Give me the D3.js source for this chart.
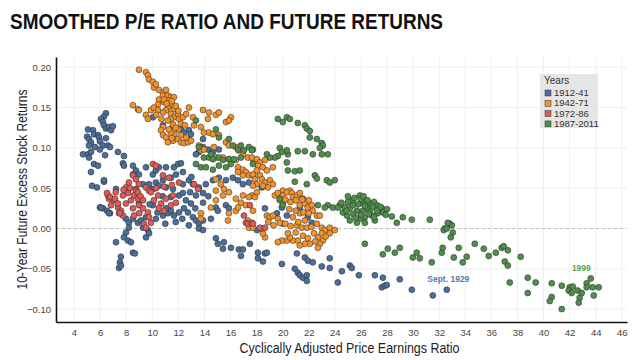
<!DOCTYPE html>
<html>
<head>
<meta charset="utf-8">
<script src="https://cdn.jsdelivr.net/npm/d3@7"></script>
<style>
  body { margin: 0; background: #fff; }
  svg { display: block; font-family: "Liberation Sans", Arial, sans-serif; }
</style>
</head>
<body>
<svg id="chart" width="640" height="360"></svg>
<script>
const TITLE = "SMOOTHED P/E RATIO AND FUTURE RETURNS";
const X_LABEL = "Cyclically Adjusted Price Earnings Ratio";
const Y_LABEL = "10-Year Future Excess Stock Returns";

const categories = ["1912-41", "1942-71", "1972-86", "1987-2011"];
const colors = ["#4a6f9c", "#f2922c", "#e15a57", "#4f8f4c"];

const xTicks = d3.range(4, 47, 2);
const yTicks = [-0.10, -0.05, 0.00, 0.05, 0.10, 0.15, 0.20];

// [CAPE, 10y excess return]
const series1912 = [
  [6.45,0.143],[6.30,0.139],[6.07,0.136],[6.22,0.132],[6.30,0.128],[6.45,0.124],[6.68,0.126],[6.84,0.122],[6.99,0.127],
  [5.07,0.123],[5.46,0.122],[5.53,0.117],[5.84,0.116],[5.00,0.114],[5.15,0.111],[5.30,0.107],[5.15,0.103],[5.92,0.113],
  [5.99,0.108],[6.22,0.103],[6.45,0.112],[6.61,0.103],[4.69,0.092],[5.07,0.092],[5.15,0.088],[5.30,0.095],[6.38,0.091],
  [7.37,0.095],[7.83,0.090],[7.75,0.081],[7.83,0.078],[5.53,0.080],[5.84,0.078],[5.30,0.070],[5.61,0.101],[5.99,0.098],
  [6.76,0.101],[5.38,0.053],[5.76,0.051],[6.30,0.058],[5.99,0.026],[6.22,0.025],[6.53,0.022],[6.76,0.019],[6.07,0.026],
  [6.68,0.019],[8.52,0.078],[8.75,0.072],[8.98,0.067],[8.52,0.067],[9.52,0.076],[10.05,0.067],[10.28,0.072],[10.51,0.076],
  [11.05,0.076],[11.66,0.076],[11.97,0.080],[12.20,0.081],[12.35,0.070],[11.82,0.067],[11.43,0.063],[10.82,0.060],
  [10.28,0.057],[9.75,0.055],[9.29,0.055],[8.75,0.049],[10.05,0.049],[10.51,0.053],[11.05,0.051],[11.59,0.049],
  [12.35,0.055],[12.81,0.060],[13.12,0.055],[13.58,0.051],[14.11,0.055],[14.65,0.060],[15.11,0.063],[15.65,0.060],
  [16.18,0.063],[16.57,0.060],[16.95,0.055],[17.41,0.057],[6.30,0.060],[7.22,0.049],
  [10.82,0.128],[11.59,0.127],[12.20,0.123],[12.43,0.119],[12.81,0.122],[12.97,0.117],[12.74,0.111],[10.05,0.138],
  [13.89,0.111],[13.89,0.101],[14.27,0.098],[13.58,0.095],[13.35,0.092],[14.65,0.095],[15.11,0.098],
  [7.98,0.012],[8.21,0.007],[8.52,0.012],[8.90,0.007],[9.13,0.010],[9.52,0.014],[10.28,0.012],[10.82,0.016],[11.20,0.019],
  [11.43,0.022],[11.66,0.016],[12.05,0.020],[12.43,0.025],[12.74,0.020],[13.12,0.014],[13.35,0.010],[13.58,0.006],
  [13.89,0.010],[12.81,0.004],[13.58,0.000],[13.89,-0.002],[9.29,0.001],[9.67,-0.002],[9.52,-0.011],[9.75,-0.006],
  [8.21,0.001],[7.98,-0.005],[7.83,-0.011],[8.14,-0.015],[8.37,-0.017],[7.22,-0.017],[8.52,-0.030],[8.67,-0.031],
  [7.60,-0.035],[7.52,-0.042],[7.45,-0.049],[7.60,-0.046],
  [14.88,-0.012],[15.03,-0.019],[15.42,-0.025],[15.49,-0.017],[16.03,-0.024],[16.64,-0.026],[16.95,-0.026],[16.80,-0.034],
  [17.49,-0.019],[11.43,0.039],[12.05,0.041],[12.58,0.035],[12.97,0.031],[13.35,0.041],[13.89,0.032],[13.89,0.044],
  [12.35,0.044],[14.88,0.026],[15.03,0.022],[15.65,0.029],[15.88,0.025],[8.98,0.032],[10.05,0.029],[11.05,0.025],
  [18.64,0.025],[18.10,-0.030],[18.64,-0.031],[18.79,-0.030],[18.10,-0.037],[18.48,-0.041],[19.94,-0.044],[21.09,-0.031],
  [21.70,-0.036],[21.93,-0.040],[22.31,-0.042],[23.00,-0.047],[23.61,-0.037],[23.61,-0.049],[20.93,-0.050],[21.16,-0.055],
  [21.31,-0.058],[21.55,-0.061],[21.85,-0.058],[21.85,-0.065],[24.54,-0.053],[25.15,-0.046],[25.30,-0.049],[24.23,-0.067],
  [25.84,-0.058],[27.07,-0.058],[27.68,-0.061],[27.60,-0.073],[27.83,-0.071],[27.98,-0.070],[28.98,-0.063],[29.90,-0.076],
  [31.51,-0.083],[32.58,-0.076],
  [19.56,0.019],[19.94,0.026],[20.01,0.006],[20.32,0.016],[21.31,0.025],[21.55,0.037],[21.93,0.014],[22.23,0.007],
  [18.02,-0.002],[18.40,0.051],[18.64,0.053],
  [9.80,0.030],[10.40,0.020],[11.00,0.006],[11.80,0.008],[12.30,0.012],[10.80,0.040],[12.90,0.045],[13.30,0.025],
  [14.30,0.040],[14.50,0.012],[13.00,0.064]
];

const series1942 = [
  [8.98,0.197],[9.52,0.194],[9.67,0.190],[9.75,0.185],[10.05,0.182],[10.13,0.175],[10.28,0.179],[10.51,0.172],[10.82,0.169],
  [11.05,0.172],[10.82,0.165],[11.20,0.165],[11.43,0.163],[11.66,0.163],[11.28,0.159],[10.51,0.160],[10.44,0.154],
  [10.90,0.157],[11.43,0.154],[11.20,0.150],[11.66,0.148],[11.05,0.147],[10.82,0.144],[11.43,0.142],[11.66,0.138],
  [11.97,0.142],[12.05,0.136],[12.35,0.138],[11.43,0.136],[11.20,0.134],[11.59,0.129],[10.82,0.126],[10.67,0.122],
  [10.82,0.116],[11.05,0.113],[11.20,0.107],[11.59,0.109],[11.66,0.117],[11.97,0.111],[12.20,0.107],[12.43,0.106],
  [12.74,0.107],[12.97,0.109],[11.43,0.119],[11.28,0.123],[8.52,0.153],[8.90,0.148],[8.98,0.147],[9.52,0.141],
  [9.67,0.136],[9.90,0.147],[10.13,0.150],[10.44,0.147],[12.81,0.150],[13.12,0.138],[13.20,0.128],[13.73,0.126],
  [13.89,0.147],[14.35,0.144],[14.27,0.136],[14.88,0.141],[15.11,0.144],[15.65,0.132],[16.03,0.138],[15.88,0.134],
  [13.96,0.119],[14.35,0.119],[14.65,0.117],[15.11,0.116],[13.58,0.103],[13.73,0.097],[13.96,0.098],[14.73,0.101],
  [15.65,0.107],[15.88,0.103],[16.41,0.101],[16.64,0.097],[16.95,0.092],[17.33,0.088],[17.72,0.086],[14.88,0.088],
  [15.42,0.088],[15.88,0.086],[16.41,0.085],[16.57,0.076],[16.95,0.073],[17.18,0.070],[17.41,0.066],[17.72,0.066],
  [16.95,0.066],[16.57,0.070],[15.49,0.049],[15.26,0.055],[14.88,0.061],
  [17.64,0.088],[18.02,0.086],[18.25,0.082],[18.64,0.085],[18.10,0.078],[18.48,0.076],[18.79,0.072],[18.02,0.072],
  [17.72,0.067],[18.25,0.066],[17.87,0.061],[18.41,0.061],[18.64,0.057],[19.02,0.060],[19.25,0.055],[18.87,0.051],
  [18.02,0.055],[18.48,0.053],[17.72,0.053],[20.01,0.047],[20.55,0.047],[19.25,0.076],
  [17.64,0.041],[17.87,0.039],[18.02,0.045],[19.40,0.041],[19.63,0.044],[20.01,0.041],[20.32,0.045],[20.70,0.044],
  [20.78,0.039],[21.09,0.041],[21.31,0.044],[19.78,0.035],[20.01,0.031],[21.31,0.029],[21.70,0.031],[21.93,0.026],
  [22.23,0.029],[22.31,0.022],[22.62,0.016],[22.85,0.016],[18.79,0.016],[19.02,0.014],[19.25,0.016],[19.63,0.012],
  [19.78,0.007],[20.78,0.014],[21.31,0.019],[21.70,0.010],[21.09,0.004],[21.47,0.001],[21.85,0.001],[22.62,0.006],
  [23.00,0.001],[23.23,-0.002],[23.61,0.001],[23.99,-0.002],[23.61,-0.006],[23.00,-0.006],[22.70,-0.011],[23.08,-0.015],
  [22.85,-0.019],[22.70,-0.024],[21.55,-0.009],[21.93,-0.012],[22.08,-0.019],[21.70,-0.019],[21.16,-0.015],[21.31,-0.021],
  [20.78,-0.015],[20.32,-0.015],[19.94,-0.015],[19.63,-0.017],[20.55,-0.011],[18.64,-0.011],[18.48,-0.006],
  [13.73,0.019],[13.73,0.012],[14.50,0.026],[14.88,0.035],[14.88,0.047],[15.42,0.041],[15.88,0.045],[16.41,0.037],
  [16.80,0.032],[16.95,0.041],[17.18,0.029],[16.41,0.022],[15.88,0.019],[17.41,0.039],[15.80,0.010],[16.57,0.026],
  [17.72,0.022],[17.33,0.010],[17.41,0.001],[17.72,0.001],
  [20.20,0.036],[20.60,0.033],[21.00,0.035],[21.50,0.036],[22.00,0.035],[20.50,0.024],[21.00,0.022],[21.60,0.020],
  [22.00,0.019],[20.20,0.006],[20.60,0.003],[21.20,0.008],[22.20,0.002],[22.40,-0.006],[21.00,-0.005],[20.40,-0.006],
  [19.30,0.004],[18.90,0.008],[23.30,-0.010],[22.50,-0.016],
  [10.90,0.160],[11.10,0.155],[11.50,0.158],[11.80,0.152],[12.00,0.146],[12.20,0.130],[12.00,0.123],[11.80,0.125],
  [12.50,0.128],[12.20,0.116],[12.60,0.113],[11.50,0.112],[10.30,0.141],[10.70,0.136],[12.60,0.142]
];

const series1972 = [
  [10.05,0.080],[10.28,0.078],[8.52,0.066],[8.75,0.061],[8.21,0.057],[8.98,0.055],[9.52,0.051],[7.98,0.051],[8.75,0.047],
  [10.82,0.066],[11.28,0.063],[12.05,0.057],[13.20,0.055],[13.50,0.049],[9.75,0.047],
  [6.61,0.041],[6.68,0.037],[7.06,0.035],[6.84,0.029],[7.37,0.026],[7.60,0.022],[7.75,0.016],[7.45,0.019],[7.98,0.031],
  [8.37,0.035],[8.60,0.041],[8.90,0.037],[8.98,0.029],[9.29,0.025],[9.67,0.020],[9.75,0.014],[9.90,0.007],[9.36,0.006],
  [9.52,0.001],[10.13,0.035],[10.44,0.041],[10.67,0.031],[11.05,0.037],[11.43,0.029],[11.59,0.041],[11.82,0.032],
  [9.90,0.045],[8.14,0.044],[7.75,0.041],[8.90,0.045],[8.52,0.025],[10.51,0.025],[10.90,0.022],
  [17.03,0.016],[17.18,0.007],[17.33,0.006],[17.64,0.007],[17.72,0.006],[18.41,0.000],[18.64,0.001],[18.25,0.001],
  [17.49,0.029],[6.53,0.044],[6.76,0.039],[7.14,0.037],[7.37,0.031],[7.52,0.019],
  [7.20,0.045],[7.80,0.048],[8.30,0.050],[9.10,0.040],[9.30,0.035],[9.00,0.019],[8.60,0.016],[10.30,0.050],
  [10.90,0.052],[11.50,0.054]
];

const series1987 = [
  [13.35,0.134],[14.88,0.123],[15.11,0.113],[15.88,0.111],[16.18,0.103],[16.57,0.098],[16.80,0.103],[17.03,0.097],
  [17.41,0.101],[17.72,0.098],[13.58,0.101],[13.96,0.088],[14.35,0.088],[14.50,0.092],[14.65,0.086],[15.11,0.088],
  [15.42,0.085],[15.88,0.086],[16.26,0.086],[16.80,0.088],[13.35,0.080],[13.73,0.076],[14.11,0.076],[14.65,0.073],
  [15.11,0.078],[15.65,0.076],[16.03,0.080],
  [19.63,0.136],[20.01,0.132],[20.32,0.138],[20.55,0.136],[21.16,0.131],[21.70,0.128],[21.85,0.124],[22.08,0.121],
  [22.08,0.113],[22.62,0.111],[23.00,0.106],[23.08,0.103],[22.85,0.100],[23.00,0.092],[23.46,0.092],[22.31,0.092],
  [21.70,0.096],[21.16,0.096],[20.40,0.092],[20.32,0.097],[19.78,0.100],[19.94,0.095],[19.63,0.090],[19.40,0.088],
  [18.79,0.092],[20.32,0.082],[20.40,0.072],[20.93,0.071],[21.31,0.072],[22.47,0.066],[22.62,0.062],[20.93,0.058],
  [21.85,0.055],[23.38,0.060],[23.61,0.057],[23.99,0.060],[17.64,0.097],[19.02,0.088],[17.72,0.080],
  [25.92,0.041],[25.38,0.035],[26.15,0.032],[26.68,0.031],[27.22,0.029],[27.60,0.025],[27.68,0.020],[27.30,0.019],
  [26.84,0.016],[26.30,0.014],[25.92,0.012],[25.69,0.007],[25.15,0.010],[24.92,0.016],[24.61,0.020],[24.77,0.026],
  [25.15,0.025],[25.69,0.022],[26.15,0.022],[26.68,0.022],[24.38,0.029],[25.38,0.029],[26.45,0.026],[27.22,0.022],
  [26.30,0.007],[23.46,0.029],[23.23,0.026],[22.70,0.029],[23.84,0.026],[24.23,0.026],[27.07,0.010],[28.37,0.015],
  [28.75,0.007],[29.21,0.014],[29.90,0.011],[31.28,0.011],[19.78,0.037],[20.01,0.029],
  [25.50,0.038],[26.00,0.036],[26.50,0.035],[27.00,0.033],[25.00,0.033],[25.80,0.030],[26.30,0.028],[26.90,0.027],
  [27.50,0.027],[24.90,0.022],[25.40,0.018],[26.00,0.017],[26.60,0.018],[27.00,0.014],[25.60,0.013],[24.50,0.032],
  [28.00,0.024],[27.90,0.017],[26.20,0.040],[25.00,0.040],
  [26.30,-0.019],[27.68,-0.032],[28.06,-0.025],[28.60,-0.030],[28.98,-0.024],[29.98,-0.036],[30.28,-0.030],[30.51,-0.037],
  [31.43,-0.042],[32.20,-0.030],[32.27,-0.024],[32.43,0.000],
  [32.35,-0.002],[32.58,0.000],[32.81,0.006],[32.97,0.004],[32.66,0.007],[33.04,-0.005],[32.89,-0.011],[33.12,-0.036],
  [33.50,-0.024],[33.81,-0.042],[34.11,-0.035],[34.73,-0.019],[35.42,-0.025],[35.80,-0.034],[36.34,-0.030],[36.79,-0.024],
  [36.95,-0.022],[37.26,-0.027],[37.03,-0.041],[37.26,-0.046],[37.41,-0.067],[38.25,-0.035],[38.79,-0.061],[39.40,-0.067],
  [38.79,-0.080],[40.63,-0.068],[40.63,-0.085],[40.48,-0.090],[41.40,-0.100],[41.40,-0.071],[42.01,-0.073],[41.93,-0.077],
  [42.24,-0.072],[42.16,-0.080],[42.62,-0.077],[42.77,-0.086],[42.70,-0.092],[42.93,-0.080],[43.31,-0.068],[43.31,-0.073],
  [43.62,-0.062],[43.77,-0.073],[43.85,-0.083],[44.23,-0.073]
];

const seriesData = [series1912, series1942, series1972, series1987];

// notes: [label, CAPE, return, series index]
const notes = [
  ["Sept. 1929", 32.7, -0.066, 0],
  ["1999", 42.9, -0.053, 3]
];

const svg = d3.select("#chart");
const margin = { left: 56, right: 13, top: 57, bottom: 38 };
const W = 640, H = 360;

const x = d3.scaleLinear().domain([2.62, 46.4]).range([margin.left, W - margin.right]);
const y = d3.scaleLinear().domain([-0.116, 0.2128]).range([H - margin.bottom, margin.top]);

// title
svg.append("text")
  .attr("x", 10).attr("y", 29)
  .attr("font-size", 22).attr("font-weight", "bold")
  .attr("fill", "#111")
  .attr("textLength", 433).attr("lengthAdjust", "spacingAndGlyphs")
  .text(TITLE);

// grid
const grid = svg.append("g").attr("stroke", "#efefef").attr("stroke-width", 1);
grid.selectAll(".gx").data(xTicks).join("line")
  .attr("x1", d => x(d)).attr("x2", d => x(d))
  .attr("y1", margin.top).attr("y2", H - margin.bottom);
grid.selectAll(".gy").data(yTicks).join("line")
  .attr("y1", d => y(d)).attr("y2", d => y(d))
  .attr("x1", margin.left).attr("x2", W - margin.right);

// zero line
svg.append("line")
  .attr("x1", margin.left).attr("x2", W - margin.right)
  .attr("y1", y(0)).attr("y2", y(0))
  .attr("stroke", "#bdbdbd").attr("stroke-width", 1.2)
  .attr("stroke-dasharray", "3,3");

// axes
const xAxis = svg.append("g")
  .attr("transform", `translate(0,${H - margin.bottom})`)
  .call(d3.axisBottom(x).tickValues(xTicks).tickSize(0).tickPadding(7));
const yAxis = svg.append("g")
  .attr("transform", `translate(${margin.left},0)`)
  .call(d3.axisLeft(y).tickValues(yTicks).tickSize(0).tickPadding(5).tickFormat(d3.format(".2f")));

[xAxis, yAxis].forEach(a => {
  a.select(".domain").attr("stroke", "#111").attr("stroke-width", 1.6);
  a.selectAll("text").attr("font-size", 9.5).attr("fill", "#444")
    .attr("font-family", "\"Liberation Sans\", Arial, sans-serif");
});

// axis titles
svg.append("text")
  .attr("x", (margin.left + W - margin.right) / 2 + 8).attr("y", 353)
  .attr("text-anchor", "middle").attr("font-size", 14).attr("fill", "#222")
  .attr("textLength", 220).attr("lengthAdjust", "spacingAndGlyphs")
  .text(X_LABEL);
svg.append("text")
  .attr("transform", `translate(27,${(margin.top + H - margin.bottom) / 2}) rotate(-90)`)
  .attr("text-anchor", "middle").attr("font-size", 14).attr("fill", "#222")
  .attr("textLength", 200).attr("lengthAdjust", "spacingAndGlyphs")
  .text(Y_LABEL);

// points
seriesData.forEach((data, i) => {
  svg.append("g")
    .selectAll("circle")
    .data(data)
    .join("circle")
    .attr("cx", d => x(d[0]))
    .attr("cy", d => y(d[1]))
    .attr("r", 3)
    .attr("fill", colors[i])
    .attr("stroke", "#2b2b2b")
    .attr("stroke-opacity", 0.75)
    .attr("stroke-width", 0.7);
});

// annotations
svg.append("g").selectAll("text").data(notes).join("text")
  .attr("x", d => x(d[1])).attr("y", d => y(d[2]))
  .attr("text-anchor", "middle")
  .attr("font-size", 8.5).attr("font-weight", "bold")
  .attr("fill", d => d3.color(colors[d[3]]).brighter(0.3))
  .text(d => d[0]);

// legend
const legend = svg.append("g").attr("transform", "translate(540,74)");
legend.append("rect").attr("width", 58).attr("height", 54).attr("fill", "#e6e6e6");
legend.append("text").attr("x", 4).attr("y", 10).attr("font-size", 10).attr("fill", "#333").text("Years");
const items = legend.selectAll(".item").data(categories).join("g")
  .attr("transform", (d, i) => `translate(5,${16 + i * 10.3})`);
items.append("rect").attr("width", 6).attr("height", 6)
  .attr("fill", (d, i) => colors[i]).attr("stroke", "#333").attr("stroke-width", 0.5);
items.append("text").attr("x", 9).attr("y", 6).attr("font-size", 9.5).attr("fill", "#333").text(d => d);
</script>
</body>
</html>
